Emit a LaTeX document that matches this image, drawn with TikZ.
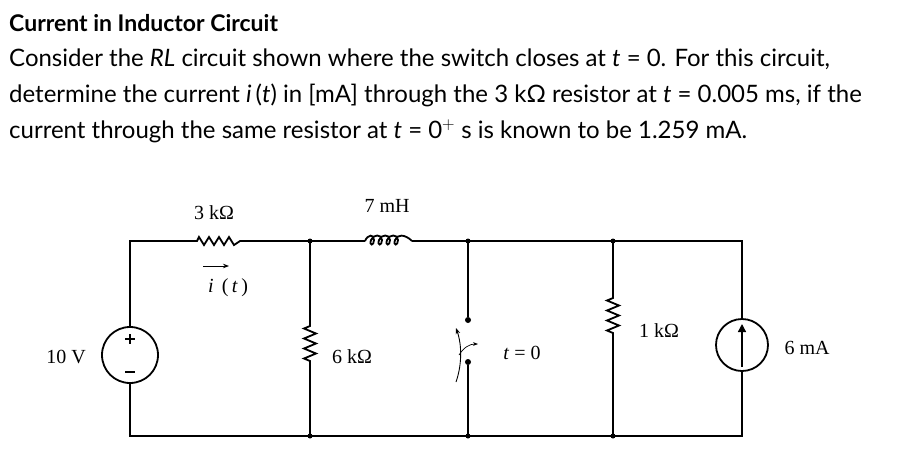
\documentclass[tikz,border=0pt]{standalone}
\usepackage{fontspec}
\setmainfont{Lato}
\newfontfamily\ser{Liberation Serif}
\usetikzlibrary{arrows.meta}
\begin{document}
\begin{tikzpicture}[x=1pt,y=-1pt,
  txt/.style={anchor=west,font=\fontsize{24}{28}\selectfont,inner sep=0pt},
  lab/.style={font=\ser\fontsize{20}{24}\selectfont,inner sep=0pt},
  w/.style={line width=1.8pt},
  dot/.style={circle,fill,inner sep=0pt,minimum size=5pt}]
\useasboundingbox (0,0) rectangle (906,467);
\node[txt,font=\bfseries\fontsize{23}{28}\selectfont] (title) at (9,23) {Current in Inductor Circuit};
\node[txt] (l1) at (9,59) {Consider the \textit{RL} circuit shown where the switch closes at \textit{t} = 0. For this circuit,};
\node[txt] (l2) at (9,95) {determine the current \textit{i}\,(\textit{t}) in [mA] through the 3 kΩ resistor at \textit{t} = 0.005 ms, if the};
\node[txt] (l3) at (9,131) {current through the same resistor at \textit{t} = 0$^+$ s is known to be 1.259 mA.};
% nodes
\coordinate (tl) at (130,241); \coordinate (bl) at (130,436);
\coordinate (tr) at (742,241); \coordinate (br) at (742,436);
\node[dot] (a1) at (310,241) {}; \node[dot] (a2) at (310,436) {};
\node[dot] (b1) at (468,241) {}; \node[dot] (b2) at (468,436) {};
\node[dot] (c1) at (613,241) {}; \node[dot] (c2) at (613,436) {};
\coordinate (vsn) at (130,327); \coordinate (vss) at (130,383);
\coordinate (csn) at (742,319); \coordinate (css) at (742,371);
\draw[w] (130,327) .. controls (145.5,327) and (158,339.5) .. (158,355) .. controls (158,370.5) and (145.5,383) .. (130,383)
  .. controls (114.5,383) and (102,370.5) .. (102,355) .. controls (102,339.5) and (114.5,327) .. (130,327) -- cycle;
\draw[w] (742,319) .. controls (756.4,319) and (768,330.6) .. (768,345) .. controls (768,359.4) and (756.4,371) .. (742,371)
  .. controls (727.6,371) and (716,359.4) .. (716,345) .. controls (716,330.6) and (727.6,319) .. (742,319) -- cycle;
\node[dot,minimum size=6pt] (s1) at (468,320) {};
\node[dot,minimum size=6pt] (s2) at (468,362) {};
% wires
\draw[w] (vsn) -- (tl) -- (197,241) -- ++(2,-4) -- ++(5,8) -- ++(5,-8) -- ++(5,8) -- ++(5,-8) -- ++(5,8) -- ++(5,-8) -- ++(5,8) -- (240,241) -- (a1.center) -- (365,241);
\draw[w] (365,241) .. controls (368,234) and (374,234) .. (374,240) .. controls (374,246) and (369,246) .. (371,240)
  .. controls (373,234) and (382,234) .. (382,240) .. controls (382,246) and (377,246) .. (379,240)
  .. controls (381,234) and (390,234) .. (390,240) .. controls (390,246) and (385,246) .. (387,240)
  .. controls (389,234) and (398,234) .. (398,240) .. controls (398,246) and (393,246) .. (395,240)
  .. controls (397,234) and (405,234) .. (412,241);
\draw[w] (412,241) -- (b1.center) -- (c1.center) -- (tr) -- (csn);
\draw[w] (css) -- (br) -- (c2.center) -- (b2.center) -- (a2.center) -- (bl) -- (vss);
\draw[w] (a1.center) -- (310,326) -- ++(-6,2.5) -- ++(12,5) -- ++(-12,5) -- ++(12,5) -- ++(-12,5) -- ++(12,5) -- ++(-12,5) -- ++(6,2.5) -- (a2.center);
\draw[w] (c1.center) -- (613,298) -- ++(-6,2.5) -- ++(12,5) -- ++(-12,5) -- ++(12,5) -- ++(-12,5) -- ++(12,5) -- ++(-12,5) -- ++(6,2.5) -- (c2.center);
\draw[w] (b1.center) -- (s1); \draw[w] (s2) -- (b2.center);
% switch blade
\draw[line width=0.9pt,-{Stealth[length=6pt]}] (456,382) .. controls (462,365) and (462,345) .. (456,328);
\draw[line width=0.7pt,-{Stealth[length=5pt]}] (459,355) .. controls (464,347) and (470,344) .. (478,344);
% source signs and arrow
\draw[line width=1.3pt] (125,339) -- (135,339) (130,334) -- (130,344);
\draw[line width=1.3pt] (125,372) -- (135,372);
\draw[line width=1.3pt,-{Triangle[length=8pt,width=8pt]}] (742,367) -- (742,324);
% labels
\node[lab] (l3k) at (214,213) {3 kΩ};
\node[lab] (l7) at (387,206) {7 mH};
\node[lab] (l6) at (352,357) {6 kΩ};
\node[lab] (lt) at (522,353) {\textit{t} = 0};
\node[lab] (l1k) at (659,331) {1 kΩ};
\node[lab] (l6m) at (807,348) {6 mA};
\node[lab] (l10) at (66,357) {10 V};
\node[lab] (li) at (228,288) {\textit{i}\, (\,\textit{t}\,)};
\draw[line width=0.8pt,-{Stealth[length=6pt]}] (203,266) -- (229,266);
\end{tikzpicture}
\end{document}
